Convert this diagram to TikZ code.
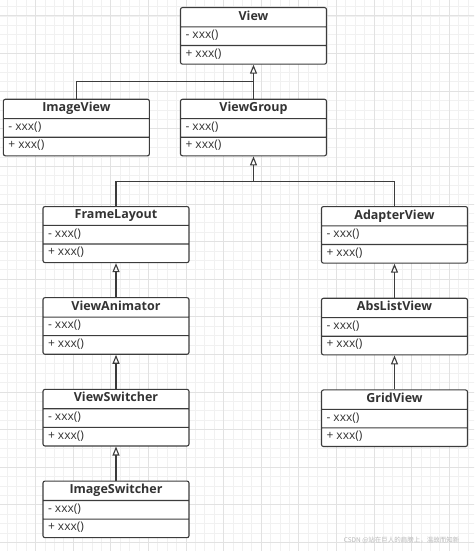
\documentclass[tikz,border=0pt]{standalone}
\usepackage{fontspec}
\setmainfont{Open Sans}
\newfontfamily\cjkfont{Noto Sans CJK SC}
\usetikzlibrary{arrows.meta,positioning,shapes.multipart}
\definecolor{umlline}{HTML}{3C3C3C}
\definecolor{umltext}{HTML}{333333}
\definecolor{gridminor}{HTML}{F1F1F1}
\definecolor{gridmajor}{HTML}{E2E2E2}
\definecolor{markgray}{HTML}{B8B8B8}
\tikzset{
  classbox/.style={draw=umlline,line width=1.1pt,rounded corners=2pt,fill=white,
    rectangle split,rectangle split parts=3,rectangle split part align={center,left,left},
    minimum width=146pt,inner xsep=5pt,inner ysep=2.5pt,text=umltext,
    font=\fontsize{12}{13}\selectfont,anchor=north},
  inherit/.style={umlline,line width=1.1pt,-{Triangle[open,length=9pt,width=7pt]}},
  branch/.style={umlline,line width=1.1pt},
  minorgrid/.style={gridminor,line width=0.5pt,step=9.4pt},
  majorgrid/.style={gridmajor,line width=0.6pt,step=37.6pt}
}
\newcommand{\rowstrut}{\rule[-3.8pt]{0pt}{12.5pt}}
\newcommand{\classbody}[1]{\textbf{\fontsize{12.5}{14}\selectfont#1}\rowstrut\nodepart{two}\rowstrut- xxx()\nodepart{three}\rowstrut+ xxx()}
\begin{document}
\begin{tikzpicture}[x=1pt,y=-1pt,node distance=34pt]
\useasboundingbox (0,0) rectangle (474,551);
\fill[white] (0,0) rectangle (474,551);
% background grid
\begin{scope}
\clip (0,0) rectangle (474,551);
\begin{scope}[shift={(-2.2,15.8)}]
\draw[minorgrid] (-40,-40) grid (520,600);
\draw[majorgrid] (-40,-40) grid (520,600);
\end{scope}
\end{scope}
% classes
\node[classbox] (view) at (253.5,7) {\classbody{View}};
\node[classbox,below=of view] (viewgroup) {\classbody{ViewGroup}};
\node[classbox,left=30pt of viewgroup] (imageview) {\classbody{ImageView}};
\node[classbox] (framelayout) at (116,206) {\classbody{FrameLayout}};
\node[classbox] (adapterview) at (394.5,206) {\classbody{AdapterView}};
\node[classbox,below=of framelayout] (viewanimator) {\classbody{ViewAnimator}};
\node[classbox,below=of viewanimator] (viewswitcher) {\classbody{ViewSwitcher}};
\node[classbox,below=of viewswitcher] (imageswitcher) {\classbody{ImageSwitcher}};
\node[classbox,below=of adapterview] (abslistview) {\classbody{AbsListView}};
\node[classbox,below=of abslistview] (gridview) {\classbody{GridView}};
% inheritance
\coordinate[below=17pt of view.south] (viewjoin);
\draw[branch] (imageview.north) |- (viewjoin);
\draw[inherit] (viewgroup.north) -- (view.south);
\coordinate[below=25pt of viewgroup.south] (groupjoin);
\draw[branch] (framelayout.north) |- (groupjoin) -| (adapterview.north);
\draw[inherit] (groupjoin) -- (viewgroup.south);
\draw[inherit] (viewanimator.north) -- (framelayout.south);
\draw[inherit] (viewswitcher.north) -- (viewanimator.south);
\draw[inherit] (imageswitcher.north) -- (viewswitcher.south);
\draw[inherit] (abslistview.north) -- (adapterview.south);
\draw[inherit] (gridview.north) -- (abslistview.south);
% watermark
\node[text=markgray,font=\cjkfont\fontsize{6.5}{7}\selectfont,anchor=east] (mark) at (463,540) {CSDN @站在巨人的肩膀上，温故而知新};
\end{tikzpicture}
\end{document}
